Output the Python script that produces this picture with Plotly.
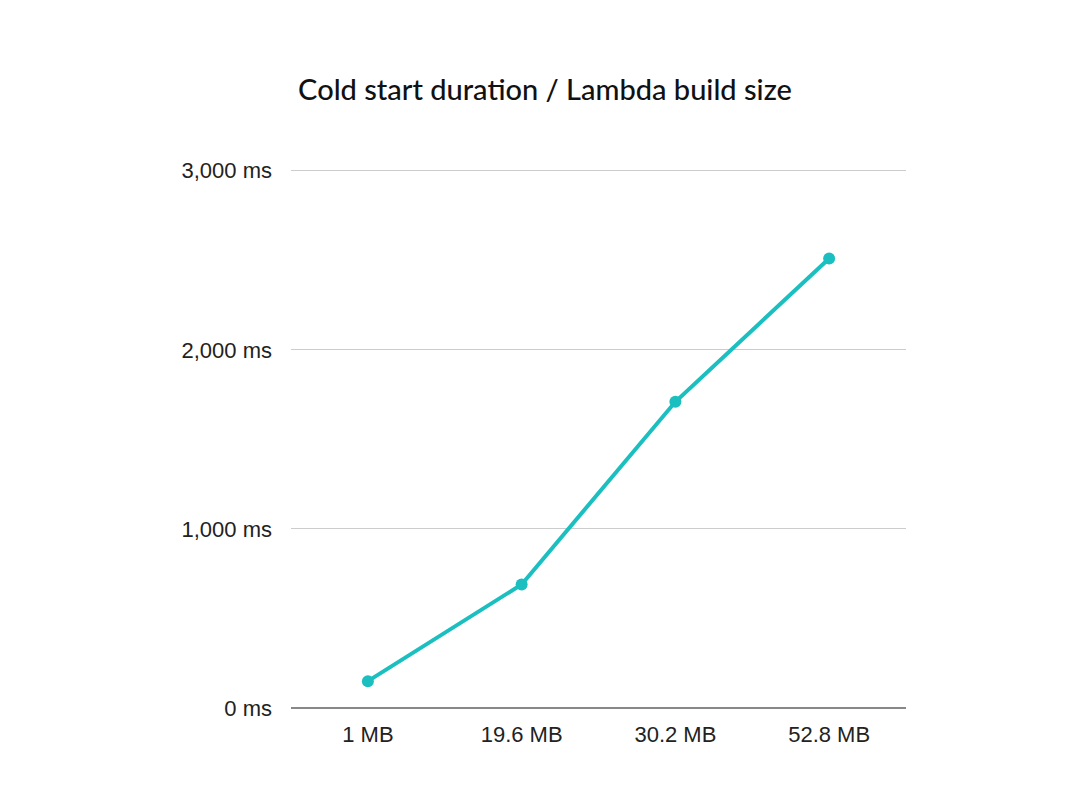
import plotly.graph_objects as go

# Cold start duration per Lambda build size
build_sizes = ["1 MB", "19.6 MB", "30.2 MB", "52.8 MB"]
cold_start_ms = [150, 690, 1710, 2510]
y_ticks = [0, 1000, 2000, 3000]
y_tick_labels = ["0 ms", "1,000 ms", "2,000 ms", "3,000 ms"]

fig = go.Figure()
fig.add_trace(go.Scatter(
    x=build_sizes, y=cold_start_ms,
    mode="lines+markers",
    line=dict(color="#1BBFC0", width=4),
    marker=dict(color="#1BBFC0", size=12),
    showlegend=False,
))

# page body adds an 8px offset, so margins are shifted to compensate
fig.update_layout(
    width=1090, height=800,
    paper_bgcolor="white", plot_bgcolor="white",
    margin=dict(l=283, r=192, t=161, b=100),
    title=dict(
        text="Cold start duration / Lambda build size",
        x=0.5 - 8 / 1090, xref="container", xanchor="center",
        y=1 - 82 / 800, yref="container", yanchor="middle",
        font=dict(family="Lato", size=29, color="#111111", weight=500),
    ),
    font=dict(family="Liberation Sans, Arial", size=22, color="#222222"),
)

fig.update_xaxes(
    type="category", range=[-0.5, 3.5],
    showgrid=False, showline=False, zeroline=False,
    ticks="", ticklabelstandoff=11,
)
fig.update_yaxes(
    range=[0, 3010], tickvals=y_ticks, ticktext=y_tick_labels,
    showgrid=True, gridcolor="#CCCCCC", gridwidth=1,
    zeroline=True, zerolinecolor="#888888", zerolinewidth=1.5,
    showline=False, ticks="", ticklabelstandoff=18,
)

fig.write_html("out.html")
